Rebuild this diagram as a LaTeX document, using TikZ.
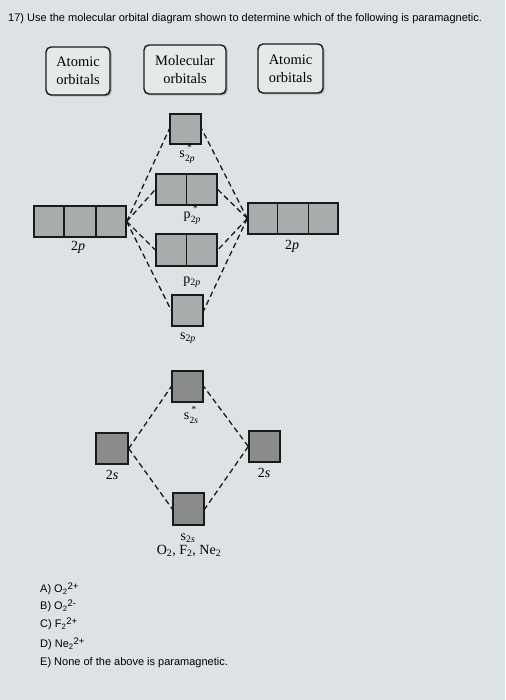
\documentclass[tikz,border=0pt]{standalone}
\usepackage{fontspec}
\setmainfont{Liberation Serif}
\newfontfamily\qsans{Liberation Sans}
\usetikzlibrary{shadows}
\definecolor{bg}{HTML}{DDE3E5}
\definecolor{orbfill}{HTML}{A9ACAC}
\definecolor{orbdark}{HTML}{8A8C8C}
\definecolor{hdrfill}{HTML}{E6E9EA}
\definecolor{ink}{HTML}{1A1A1A}
\newcommand\orbl[3]{#1\kern0.3pt\raisebox{-3.5pt}{\fontsize{9.5}{9.5}\selectfont\shortstack[l]{\kern2pt#2\\[1pt]#3}}}
\newcommand\chg[2]{#1\textsubscript{2}\raisebox{0.45ex}{\fontsize{9.5}{10}\selectfont #2}}
\tikzset{
  orb/.style={draw=ink, line width=1.4pt, fill=orbfill, minimum height=31pt, inner sep=0pt},
  orbs/.style={orb, fill=orbdark, minimum width=31pt},
  divl/.style={draw=ink, line width=1.4pt},
  hdr/.style={draw=ink, line width=1.4pt, rounded corners=5pt, fill=hdrfill, align=center,
    drop shadow={shadow xshift=1.5pt, shadow yshift=-1.5pt, fill=black!50, opacity=0.6},
    font=\fontsize{14.5}{18}\selectfont, inner sep=0pt},
  lbl/.style={font=\fontsize{14}{16}\selectfont, inner sep=0pt},
  conn/.style={draw=ink, line width=1.3pt, dash pattern=on 5.5pt off 3.5pt},
  txt/.style={font=\qsans\fontsize{11}{12}\selectfont, anchor=west, inner sep=0pt},
}
\begin{document}
\begin{tikzpicture}[x=1pt,y=-1pt]
\fill[bg] (0,0) rectangle (505,700);
\useasboundingbox (0,0) rectangle (505,700);

\node[txt] (title) at (8,19) {17) Use the molecular orbital diagram shown to determine which of the following is paramagnetic.};

\node[hdr, minimum width=64pt, minimum height=48pt] (hA) at (78,71) {Atomic\\orbitals};
\node[hdr, minimum width=82pt, minimum height=49pt] (hM) at (185,69.5) {Molecular\\orbitals};
\node[hdr, minimum width=65pt, minimum height=49pt] (hB) at (290.5,68.5) {Atomic\\orbitals};

% 2p atomic (left)
\node[orb, minimum width=92pt] (L2p) at (80,221.5) {};
\draw[divl] ([xshift=30.67pt]L2p.north west) -- ([xshift=30.67pt]L2p.south west);
\draw[divl] ([xshift=-30.67pt]L2p.north east) -- ([xshift=-30.67pt]L2p.south east);
% 2p atomic (right)
\node[orb, minimum width=90pt] (R2p) at (293,218.5) {};
\draw[divl] ([xshift=30pt]R2p.north west) -- ([xshift=30pt]R2p.south west);
\draw[divl] ([xshift=-30pt]R2p.north east) -- ([xshift=-30pt]R2p.south east);

% molecular 2p
\node[orb, minimum width=31pt, minimum height=30pt] (ss2p) at (185.5,129) {};
\node[orb, minimum width=61pt] (ps2p) at (186.5,189.5) {};
\draw[divl] (ps2p.north) -- (ps2p.south);
\node[orb, minimum width=61pt, minimum height=32pt] (p2p) at (186.5,250) {};
\draw[divl] (p2p.north) -- (p2p.south);
\node[orb, minimum width=31pt] (s2p) at (187.5,310.5) {};

% 2s
\node[orbs] (ss2s) at (187.5,386.5) {};
\node[orbs, minimum width=32pt] (L2s) at (112,448.5) {};
\node[orbs] (R2s) at (264.5,446.5) {};
\node[orbs, minimum height=32pt] (s2s) at (188.5,509) {};

% connectors
\foreach \m in {ss2p,ps2p,p2p,s2p} {
  \draw[conn] (L2p.east) -- (\m.west);
  \draw[conn] (R2p.west) -- (\m.east);
}
\foreach \m in {ss2s,s2s} {
  \draw[conn] (L2s.east) -- (\m.west);
  \draw[conn] (R2s.west) -- (\m.east);
}

% labels
\node[lbl] (lss2p) at (187,154) {\orbl{s}{*}{2\textit{p}}};
\node[lbl] (lps2p) at (192,215) {\orbl{p}{*}{2\textit{p}}};
\node[lbl] (lL2p) at (78,247) {2\textit{p}};
\node[lbl] (lR2p) at (292,246) {2\textit{p}};
\node[lbl] (lp2p) at (192,282) {p\textsubscript{2\textit{p}}};
\node[lbl] (ls2p) at (188,338) {s\textsubscript{2\textit{p}}};
\node[lbl] (lss2s) at (191,415) {\orbl{s}{*}{2\textit{s}}};
\node[lbl] (lL2s) at (112,475) {2\textit{s}};
\node[lbl] (lR2s) at (264,473) {2\textit{s}};
\node[lbl] (ls2s) at (188,538) {s\textsubscript{2\textit{s}}};
\node[lbl, font=\fontsize{14}{15}\selectfont] (mols) at (189,551) {O\textsubscript{2}, F\textsubscript{2}, Ne\textsubscript{2}};

% answers
\node[txt] (aA) at (40,589) {A) \chg{O}{2+}};
\node[txt] (aB) at (40,606) {B) \chg{O}{2-}};
\node[txt] (aC) at (40,624) {C) \chg{F}{2+}};
\node[txt] (aD) at (40,644) {D) \chg{Ne}{2+}};
\node[txt] (aE) at (40,663) {E) None of the above is paramagnetic.};
\end{tikzpicture}
\end{document}
